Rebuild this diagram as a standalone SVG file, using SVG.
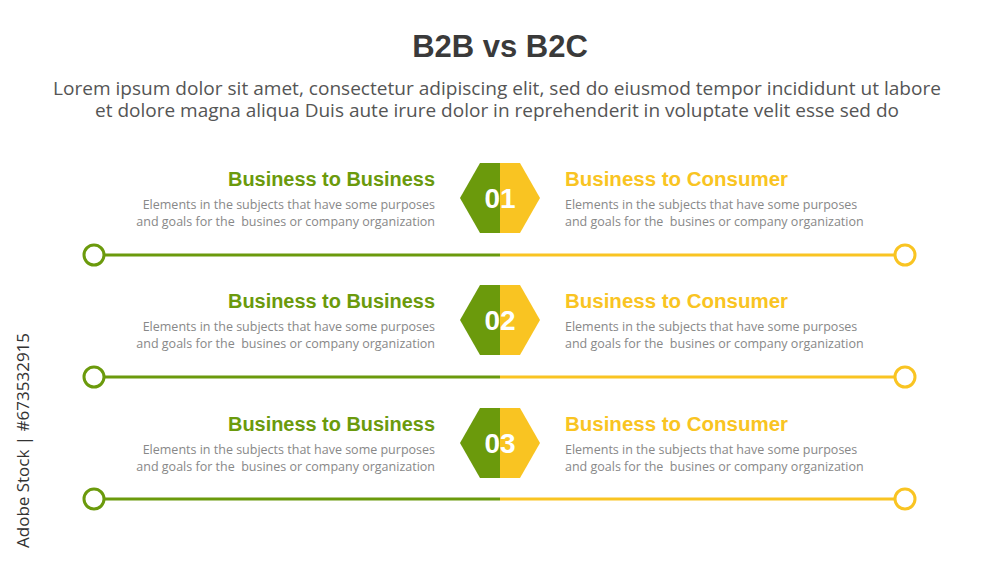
<svg xmlns="http://www.w3.org/2000/svg" width="1000" height="563" viewBox="0 0 1000 563">
<style>
.title{font-family:"Liberation Sans",Arial,sans-serif;font-weight:bold;font-size:31px;fill:#3a3a3a;text-anchor:middle}
.sub{font-family:"Open Sans","Liberation Sans",sans-serif;font-size:17.5px;fill:#555}
.hb{font-family:"Liberation Sans",Arial,sans-serif;font-weight:bold;font-size:20px}
.g{fill:#6b9a0c}
.y{fill:#f9c422}
.desc{font-family:"Open Sans","Liberation Sans",sans-serif;font-size:12.5px;fill:#888;white-space:pre}
.end{text-anchor:end}
.num{font-family:"Liberation Sans",Arial,sans-serif;font-weight:bold;font-size:28px;fill:#fff;text-anchor:middle}
.lg{stroke:#6b9a0c;stroke-width:3;fill:none}
.ly{stroke:#f9c422;stroke-width:3;fill:none}
.cg{stroke:#6b9a0c;stroke-width:3;fill:#fff}
.cy{stroke:#f9c422;stroke-width:3;fill:#fff}
.wm{font-family:"Open Sans","Liberation Sans",sans-serif;font-size:17px;fill:#333}
</style>
<rect width="1000" height="563" fill="#fff"/>
<text class="title" x="500" y="57">B2B vs B2C</text>
<text class="sub" x="53" y="95" textLength="888" lengthAdjust="spacingAndGlyphs">Lorem ipsum dolor sit amet, consectetur adipiscing elit, sed do eiusmod tempor incididunt ut labore</text>
<text class="sub" x="95" y="117" textLength="804" lengthAdjust="spacingAndGlyphs">et dolore magna aliqua Duis aute irure dolor in reprehenderit in voluptate velit esse sed do</text>
<g id="connectors">
<line class="lg" x1="104" y1="255" x2="500" y2="255"/>
<line class="ly" x1="500" y1="255" x2="895" y2="255"/>
<line class="lg" x1="104" y1="377" x2="500" y2="377"/>
<line class="ly" x1="500" y1="377" x2="895" y2="377"/>
<line class="lg" x1="104" y1="499" x2="500" y2="499"/>
<line class="ly" x1="500" y1="499" x2="895" y2="499"/>
<circle class="cg" cx="94" cy="255" r="10"/>
<circle class="cy" cx="905" cy="255" r="10"/>
<circle class="cg" cx="94" cy="377" r="10"/>
<circle class="cy" cx="905" cy="377" r="10"/>
<circle class="cg" cx="94" cy="499" r="10"/>
<circle class="cy" cx="905" cy="499" r="10"/>
</g>
<defs>
<g id="hex">
<polygon class="g" points="500,-35 480,-35 460,0 480,35 500,35"/>
<polygon class="y" points="500,-35 520,-35 540,0 520,35 500,35"/>
</g>
</defs>
<g id="row1">
<use href="#hex" x="0" y="198"/>
<text class="num" x="500" y="208">01</text>
<text class="hb g end" x="435" y="186" textLength="207" lengthAdjust="spacingAndGlyphs">Business to Business</text>
<text class="desc end" x="435" y="209" xml:space="preserve">Elements in the subjects that have some purposes</text>
<text class="desc end" x="435" y="226" xml:space="preserve">and goals for the  busines or company organization</text>
<text class="hb y" x="565" y="186" textLength="223" lengthAdjust="spacingAndGlyphs">Business to Consumer</text>
<text class="desc" x="565" y="209" xml:space="preserve">Elements in the subjects that have some purposes</text>
<text class="desc" x="565" y="226" xml:space="preserve">and goals for the  busines or company organization</text>
</g>
<g id="row2">
<use href="#hex" x="0" y="320"/>
<text class="num" x="500" y="330">02</text>
<text class="hb g end" x="435" y="308" textLength="207" lengthAdjust="spacingAndGlyphs">Business to Business</text>
<text class="desc end" x="435" y="331" xml:space="preserve">Elements in the subjects that have some purposes</text>
<text class="desc end" x="435" y="348" xml:space="preserve">and goals for the  busines or company organization</text>
<text class="hb y" x="565" y="308" textLength="223" lengthAdjust="spacingAndGlyphs">Business to Consumer</text>
<text class="desc" x="565" y="331" xml:space="preserve">Elements in the subjects that have some purposes</text>
<text class="desc" x="565" y="348" xml:space="preserve">and goals for the  busines or company organization</text>
</g>
<g id="row3">
<use href="#hex" x="0" y="443"/>
<text class="num" x="500" y="453">03</text>
<text class="hb g end" x="435" y="431" textLength="207" lengthAdjust="spacingAndGlyphs">Business to Business</text>
<text class="desc end" x="435" y="454" xml:space="preserve">Elements in the subjects that have some purposes</text>
<text class="desc end" x="435" y="471" xml:space="preserve">and goals for the  busines or company organization</text>
<text class="hb y" x="565" y="431" textLength="223" lengthAdjust="spacingAndGlyphs">Business to Consumer</text>
<text class="desc" x="565" y="454" xml:space="preserve">Elements in the subjects that have some purposes</text>
<text class="desc" x="565" y="471" xml:space="preserve">and goals for the  busines or company organization</text>
</g>
<text class="wm" transform="translate(29 548) rotate(-90)">Adobe Stock | #673532915</text>
</svg>
